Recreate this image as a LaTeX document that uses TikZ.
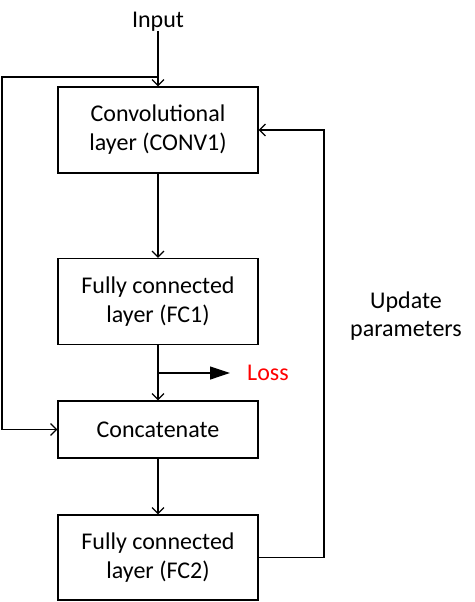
\documentclass[tikz,border=0pt]{standalone}
\usepackage{fontspec}
\setmainfont{Carlito}
\usetikzlibrary{arrows.meta}
\begin{document}
\begin{tikzpicture}[x=1pt,y=-1pt,
  layerbox/.style={draw,line width=1.2pt,minimum width=200pt,minimum height=86pt,align=center,inner sep=0pt,font=\fontsize{24}{29}\selectfont},
  conn/.style={line width=1.2pt,-{Straight Barb[length=6pt,width=12pt]}},
  lbl/.style={align=center,inner sep=0pt,font=\fontsize{24}{28}\selectfont}]
\useasboundingbox (0,0) rectangle (474,602);
\node[layerbox] (conv) at (158,130) {Convolutional\\layer (CONV1)};
\node[layerbox] (fc1) at (158,301.5) {Fully connected\\layer (FC1)};
\node[layerbox,minimum height=57pt] (cat) at (158,429.5) {Concatenate};
\node[layerbox,minimum height=85pt] (fc2) at (158,557.5) {Fully connected\\layer (FC2)};
\node[lbl] (input) at (158,22) {Input};
\node[lbl,text=red,anchor=west] (loss) at (247,373) {Loss};
\node[lbl] (upd) at (406,316) {Update\\parameters};
\coordinate (lt) at (2,77);
\coordinate (lb) at (2,429.5);
\coordinate (ls) at (158,373);
\coordinate (le) at (230,373);
\coordinate (rt) at (324,130);
\coordinate (rb) at (324,557.5);
\draw[conn] (input.south) ++(0,-1) -- (conv.north);
\draw[conn] (conv.south) -- (fc1.north);
\draw[conn] (fc1.south) -- (cat.north);
\draw[conn] (cat.south) -- (fc2.north);
\draw[line width=1.2pt] (158,77) -- (lt) -- (lb);
\draw[conn] (lb) -- (cat.west);
\draw[line width=1.2pt,-{Triangle[length=20pt,width=13pt]}] (ls) -- (le);
\draw[conn] (fc2.east) -- (rb) -- (rt) -- (conv.east);
\end{tikzpicture}
\end{document}
